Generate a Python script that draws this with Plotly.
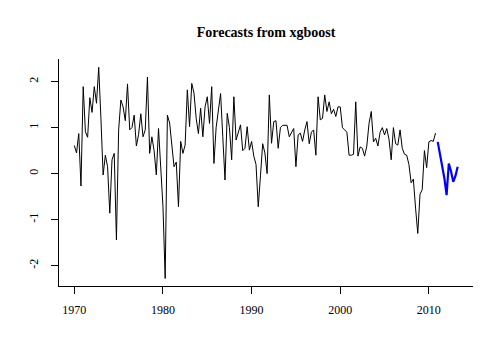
import plotly.graph_objects as go

# Quarterly history, 1970 Q1 .. 2010 Q4
start_year = 1970
history = [
    0.61, 0.45, 0.87, -0.27,   # 1970
    1.89, 0.91, 0.79, 1.65,    # 1971
    1.33, 1.89, 1.53, 2.31,    # 1972
    1.20, -0.03, 0.40, 0.15,   # 1973
    -0.86, 0.30, 0.44, -1.44,  # 1974
    0.95, 1.60, 1.45, 1.15,    # 1975
    1.95, 0.95, 1.00, 1.27,    # 1976
    0.60, 0.85, 1.30, 0.80,    # 1977
    0.95, 2.10, 0.44, 0.80,    # 1978
    0.50, -0.03, 0.98, 0.00,   # 1979
    -0.72, -2.28, 1.27, 1.10,  # 1980
    0.60, 0.15, 0.25, -0.72,   # 1981
    0.70, 0.44, 0.62, 1.82,    # 1982
    1.02, 1.96, 1.75, 1.20,    # 1983
    0.87, 1.42, 0.80, 1.45,    # 1984
    1.67, 1.09, 1.89, 0.22,    # 1985
    1.00, 1.40, 1.74, 0.80,    # 1986
    -0.14, 1.31, 1.00, 0.30,   # 1987
    1.67, 0.73, 0.91, 1.06,    # 1988
    0.50, 0.55, 1.02, 0.51,    # 1989
    0.70, 0.38, 0.20, -0.72,   # 1990
    -0.05, 0.65, 0.45, 0.00,   # 1991
    1.71, 0.66, 1.13, 1.15,    # 1992
    0.55, 1.00, 1.05, 1.05,    # 1993
    1.05, 0.80, 0.90, 0.98,    # 1994
    0.15, 0.84, 0.88, 0.70,    # 1995
    0.95, 1.13, 0.65, 0.90,    # 1996
    0.95, 0.40, 1.67, 1.17,    # 1997
    1.20, 1.71, 1.35, 1.56,    # 1998
    1.30, 1.40, 1.24, 1.45,    # 1999
    1.45, 1.00, 0.95, 0.90,    # 2000
    0.40, 0.40, 0.42, 1.56,    # 2001
    0.38, 0.58, 0.55, 0.38,    # 2002
    0.60, 1.09, 1.35, 0.69,    # 2003
    0.77, 0.60, 0.90, 1.00,    # 2004
    0.84, 0.98, 0.75, 0.30,    # 2005
    1.00, 0.65, 0.62, 0.95,    # 2006
    0.55, 0.42, 0.40, 0.20,    # 2007
    -0.20, -0.12, -0.75, -1.30,  # 2008
    -0.45, -0.35, 0.50, 0.13,  # 2009
    0.69, 0.72, 0.70, 0.88,    # 2010
]

# Quarterly forecast, 2011 Q1 .. 2013 Q2
forecast_start = 2011
forecast = [0.69, 0.42, 0.12, -0.10, -0.47, 0.22, 0.05, -0.18, -0.05, 0.15]

x_ticks = [1970, 1980, 1990, 2000, 2010]
y_ticks = [-2, -1, 0, 1, 2]
title_text = "Forecasts from xgboost"

hist_x = [start_year + i / 4 for i in range(len(history))]
fc_x = [forecast_start + i / 4 for i in range(len(forecast))]

serif = "Liberation Serif, Times New Roman, serif"

fig = go.Figure()
fig.add_trace(go.Scatter(x=hist_x, y=history, mode="lines",
                         line=dict(color="black", width=1), hoverinfo="skip"))
fig.add_trace(go.Scatter(x=fc_x, y=forecast, mode="lines",
                         line=dict(color="#0000FF", width=2.2), hoverinfo="skip"))

fig.update_layout(
    width=504, height=360,
    margin=dict(l=51, r=38.5, t=51, b=82, pad=0),
    paper_bgcolor="white", plot_bgcolor="white",
    showlegend=False,
    title=dict(text="<b>" + title_text + "</b>", x=258 / 504, xanchor="center",
               y=1 - 24 / 360, yanchor="middle", yref="container",
               font=dict(family=serif, size=14, color="black")),
    xaxis=dict(range=[1968.27, 2014.98], tickvals=x_ticks,
               ticktext=[str(v) for v in x_ticks],
               showgrid=False, zeroline=False, showline=True,
               linecolor="black", linewidth=1, ticks="outside",
               ticklen=7, tickcolor="black", tickwidth=1,
               ticklabelstandoff=6, automargin=False,
               tickfont=dict(family=serif, size=12, color="black")),
    yaxis=dict(range=[-2.443, 2.491], tickvals=y_ticks,
               ticktext=[str(v) for v in y_ticks],
               showgrid=False, zeroline=False, showline=True,
               linecolor="black", linewidth=1, ticks="outside",
               ticklen=7, tickcolor="black", tickwidth=1,
               tickangle=-90, ticklabelstandoff=8, automargin=False,
               tickfont=dict(family=serif, size=12, color="black")),
)

fig.write_html("out.html")
